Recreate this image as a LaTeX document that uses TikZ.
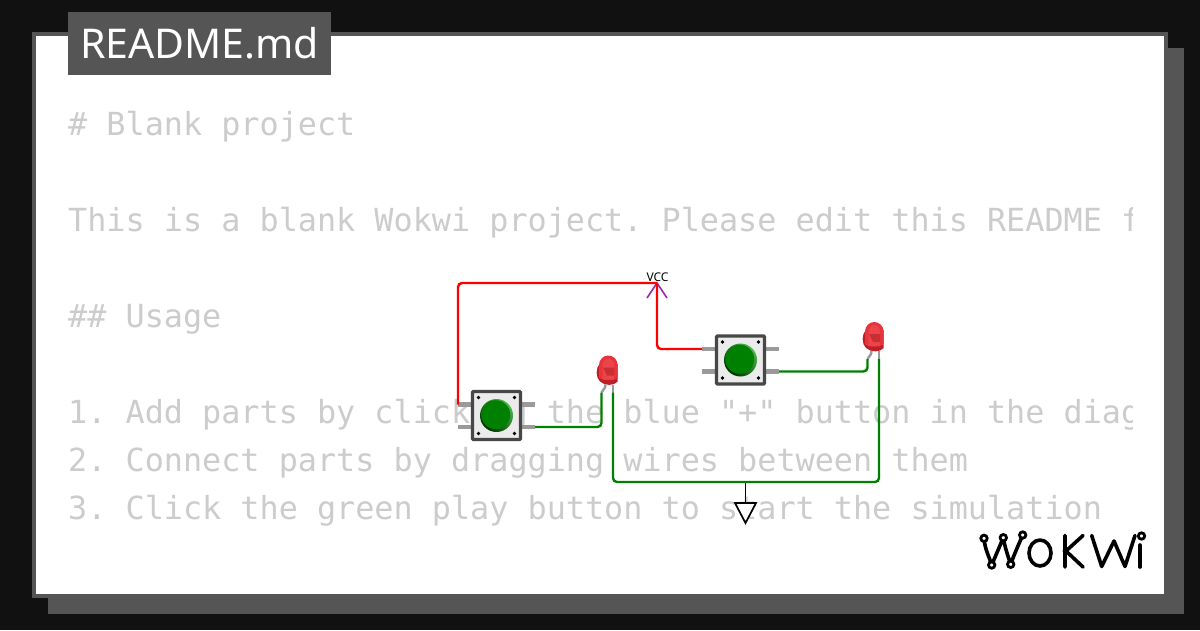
\documentclass[tikz,border=0pt]{standalone}
\usepackage{fontspec}
\setmainfont{Noto Sans}
\newfontfamily\codefont{DejaVu Sans Mono}
\frenchspacing
\definecolor{bgdark}{HTML}{111111}
\definecolor{framegrey}{HTML}{555555}
\definecolor{codegrey}{HTML}{CCCCCC}
\definecolor{wirered}{HTML}{FF0000}
\definecolor{wiregreen}{HTML}{008000}
\definecolor{pingrey}{HTML}{9A9A9A}
\definecolor{vccpurple}{HTML}{9C27B0}
\definecolor{ledred}{HTML}{E6343A}
\definecolor{ledlight}{HTML}{E9454A}
\definecolor{leddark}{HTML}{BE1E25}
\tikzset{
  x=1pt,y=-1pt,
  codeline/.style={anchor=base west,inner sep=0pt,text=codegrey,font=\fontsize{31.8}{32}\codefont},
  wire/.style={line width=2.4pt,rounded corners=4pt},
  pin/.style={draw=pingrey,line width=4.4pt},
  logostroke/.style={draw=black,line width=3.6pt,line cap=round,line join=round},
  logodot/.style={draw=black,line width=2.8pt,fill=white},
  pics/pushbtn/.style={code={
    \draw[pin] (-38.5,-11) -- (-25,-11);
    \draw[pin] (-38.5,11.5) -- (-25,11.5);
    \draw[pin] (25,-11) -- (38.5,-11);
    \draw[pin] (25,11.5) -- (38.5,11.5);
    \draw[draw=black!72,fill=black!8,line width=3.4pt,rounded corners=1pt] (-24,-24) rectangle (24,24);
    \foreach \px/\py in {-18/-18,18/-18,-18/18,18/18} \fill[black] (\px,\py) circle (1.8pt);
    \shade[top color=green!60!black!70,bottom color=black!80!green,shading angle=-45] (0,0) circle (16.5pt);
    \fill[wiregreen] (-0.8,-0.8) circle (14.5pt);
    \coordinate (-tl) at (-38.5,-11);
    \coordinate (-br) at (38.5,11.5);
  }},
  pics/redled/.style={code={
    \draw[pingrey,line width=2.4pt] (-2.5,29) -- (-3,32) -- (-6.5,37);
    \draw[pingrey,line width=2.4pt] (5,29) -- (5,37);
    \fill[leddark] (-8,8) .. controls (-12.5,12) and (-12.5,22) .. (-8,26) .. controls (-3,30.5) and (6,30.5) .. (9.7,26) -- (9.7,8) -- cycle;
    \fill[ledred] (-9,22) -- (-9,9.5) arc[start angle=180,end angle=360,x radius=9.3,y radius=9.5] -- (9.6,22) .. controls (7,25.5) and (-6,25.5) .. (-9,22) -- cycle;
    \fill[ledlight] (-5.5,24) -- (-5.5,10) arc[start angle=180,end angle=360,x radius=5.8,y radius=7] -- (6.1,24) -- cycle;
    \fill[ledred!88!black] (-5,12) -- (6,12) -- (6,20) -- (-1,20) -- cycle;
    \coordinate (-a) at (-6.5,37);
    \coordinate (-c) at (5,37);
  }}
}
\begin{document}
\begin{tikzpicture}
\useasboundingbox (0,0) rectangle (1200,630);
\fill[bgdark] (0,0) rectangle (1200,630);
\fill[framegrey] (48,48) rectangle (1184,614);
\draw[framegrey,fill=white,line width=4pt] (34,34) rectangle (1166,596);
\begin{scope}
\clip (36,36) rectangle (1132,594);
\node[codeline] (l1) at (68,135) {\# Blank project};
\node[codeline] (l2) at (68,231) {This is a blank Wokwi project. Please edit this README file};
\node[codeline] (l3) at (68,327) {\#\# Usage};
\node[codeline] (l4) at (68,423) {1. Add parts by clicking the blue "+" button in the diagram};
\node[codeline] (l5) at (68,471) {2. Connect parts by dragging wires between them};
\node[codeline] (l6) at (68,519) {3. Click the green play button to start the simulation};
\end{scope}
\fill[framegrey] (68,12) rectangle (331,75);
\node[anchor=base west,inner sep=0pt,text=white,font=\fontsize{41}{42}\selectfont] (title) at (80,58.5) {README.md};
% parts
\pic (b1) at (496.5,415.5) {pushbtn};
\pic (b2) at (740.5,360) {pushbtn};
\pic (d1) at (608,355.5) {redled};
\pic (d2) at (874,322) {redled};
% power symbols
\coordinate (vcc) at (657,283);
\coordinate (vccl) at (647,298);
\coordinate (vccr) at (667,298);
\coordinate (vccs) at (657,305);
\draw[vccpurple,line width=1.6pt] (vccl) -- (vcc) -- (vccr) (vcc) -- (vccs);
\node[inner sep=0pt,font=\fontsize{12}{12}\selectfont,text=black] (vcclabel) at (657.5,277) {VCC};
\coordinate (gndj) at (745.5,482);
\coordinate (gndt) at (745.5,503);
\coordinate (gndl) at (735,503);
\coordinate (gndr) at (756,503);
\coordinate (gndb) at (745.5,523);
\draw[black,line width=1.7pt] (gndj) -- (gndt);
\draw[black,fill=white,line width=1.7pt,line join=miter] (gndl) -- (gndr) -- (gndb) -- cycle;
% wires
\draw[wire,wirered] (b1-tl) |- (vcc);
\draw[wire,wirered] (b2-tl) -| (vcc);
\draw[wire,wiregreen] (b1-br) -| (d1-a);
\draw[wire,wiregreen] (b2-br) -| (d2-a);
\draw[wire,wiregreen] (d1-c) |- (gndj) -| (d2-c);
% logo
\draw[logostroke] (984,538.3) .. controls (985,550) and (989,556) .. (991.7,565) -- (1003.3,537.7) .. controls (1005,548) and (1008,556) .. (1010.7,564.3) .. controls (1015,552) and (1019,544) .. (1022.7,535);
\draw[logodot] (984,538.3) circle (3.2pt) (1003.3,537.7) circle (3.2pt) (1022.7,535) circle (3.2pt) (991.7,565) circle (3.2pt) (1010.7,564.3) circle (3.2pt);
\draw[logostroke] (1040,553) circle[x radius=11,y radius=13];
\draw[logostroke] (1065,535.5) -- (1065,567) (1066,551) -- (1083,535.5) (1066,551) -- (1083,567);
\draw[logodot,line width=1.6pt] (1065,551) circle (1.6pt);
\draw[logostroke] (1091.7,535.5) -- (1101.7,566.5) -- (1114,541) -- (1125,566.5) -- (1135,535.5);
\draw[logostroke] (1140,545) -- (1140,567);
\draw[logodot] (1141.5,536) circle (3.2pt);
\end{tikzpicture}
\end{document}
